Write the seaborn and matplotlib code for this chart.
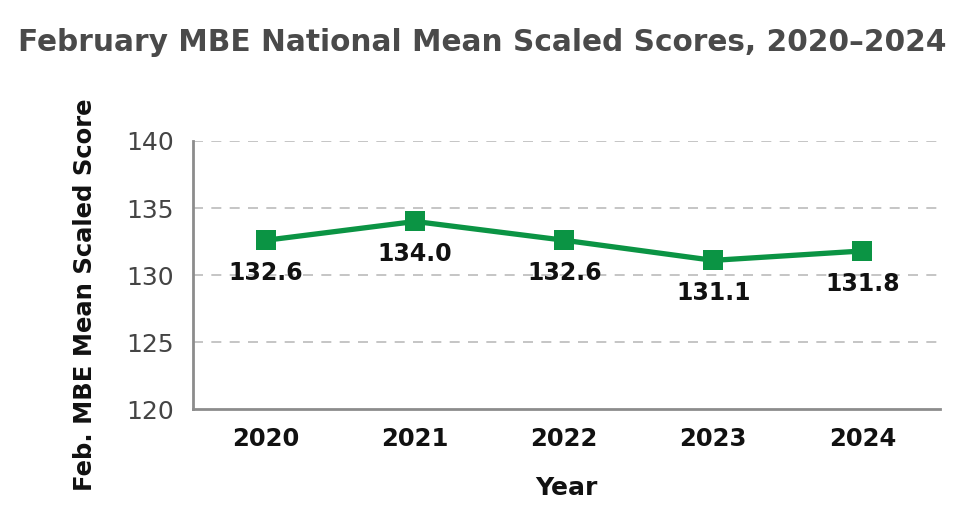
import matplotlib
matplotlib.use("Agg")
import matplotlib.pyplot as plt
import seaborn as sns
import pandas as pd

years = ["2020", "2021", "2022", "2023", "2024"]
scores = [132.6, 134.0, 132.6, 131.1, 131.8]
score_labels = ["132.6", "134.0", "132.6", "131.1", "131.8"]
y_ticks = [120, 125, 130, 135, 140]

green = "#0b9444"
grey = "#8c8c8c"

sns.set_style("white")
plt.rcParams["font.family"] = ["DejaVu Sans"]

df = pd.DataFrame({"pos": range(len(years)), "score": scores})

fig, ax = plt.subplots(figsize=(9.8, 5.09), dpi=100)
fig.subplots_adjust(left=0.197, right=0.959, top=0.723, bottom=0.196)

sns.lineplot(data=df, x="pos", y="score", ax=ax, color=green, linewidth=3.8,
             marker="s", markersize=14, markeredgewidth=0, zorder=3)

# value labels under each point
for x, y, lab in zip(df["pos"], df["score"], score_labels):
    ax.annotate(lab, (x, y), xytext=(0, -15), textcoords="offset points",
                ha="center", va="top", fontsize=17, fontweight="bold", color="#111111")

ax.set_xlim(-0.49, 4.52)
ax.set_ylim(120, 140)
ax.set_xticks(range(len(years)))
ax.set_xticklabels(years, fontsize=17.5, fontweight="bold", color="#111111")
ax.set_yticks(y_ticks)
ax.set_yticklabels([str(t) for t in y_ticks], fontsize=18, color="#444444")

for t in y_ticks[1:]:
    ax.axhline(t, color="#bbbbbb", linewidth=1.2, linestyle=(0, (6, 5)), zorder=1)

for side in ["top", "right"]:
    ax.spines[side].set_visible(False)
for side in ["left", "bottom"]:
    ax.spines[side].set_color(grey)
    ax.spines[side].set_linewidth(2)

ax.tick_params(axis="x", direction="in", length=7, width=2, color=grey, pad=13)
ax.tick_params(axis="y", direction="out", length=6, width=1.5, color=grey, pad=8)

ax.set_xlabel("Year", fontsize=18, fontweight="bold", color="#111111", labelpad=18)
ax.set_ylabel("Feb. MBE Mean Scaled Score", fontsize=17.5, fontweight="bold",
              color="#111111")
ax.yaxis.set_label_coords(-0.128, 0.425)

fig.suptitle("February MBE National Mean Scaled Scores, 2020–2024", x=0.492, y=0.945,
             fontsize=21.3, fontweight="bold", color="#4a4a4a")

fig.savefig("out.png", dpi=100)
